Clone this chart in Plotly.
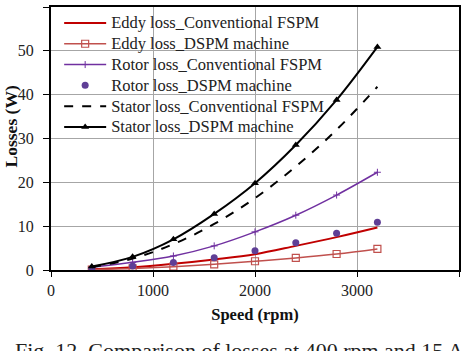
import plotly.graph_objects as go

speed = [400, 800, 1200, 1600, 2000, 2400, 2800, 3200]
eddy_conv = [0.15, 0.6, 1.4, 2.4, 3.6, 5.5, 7.5, 9.7]
eddy_dspm = [0.1, 0.35, 0.75, 1.3, 2.0, 2.75, 3.65, 4.8]
rotor_conv = [0.6, 1.75, 3.2, 5.5, 8.7, 12.5, 17.1, 22.3]
rotor_dspm = [0.25, 0.9, 1.7, 2.8, 4.4, 6.2, 8.4, 10.9]
stator_conv = [0.65, 2.6, 5.9, 10.5, 16.4, 23.6, 32.0, 41.8]
stator_dspm = [0.8, 3.0, 7.0, 12.8, 19.8, 28.5, 38.8, 50.9]

names = [
    "Eddy loss_Conventional FSPM",
    "Eddy loss_DSPM machine",
    "Rotor loss_Conventional FSPM",
    "Rotor loss_DSPM machine",
    "Stator loss_Conventional FSPM",
    "Stator loss_DSPM machine",
]

FONT = "Liberation Serif"
TXT = "#222"


def lg(s):
    return '<span style="font-size:16.5px">' + s + '</span>'


fig = go.Figure()
fig.add_trace(go.Scatter(x=speed, y=eddy_conv, name=lg(names[0]), mode="lines",
                         line=dict(color="#c00000", width=2, shape="spline")))
fig.add_trace(go.Scatter(x=speed, y=eddy_dspm, name=lg(names[1]), mode="lines+markers",
                         line=dict(color="#c0504d", width=1.5, shape="spline"),
                         marker=dict(symbol="square-open", size=7, color="#c0504d", line=dict(width=1.2))))
fig.add_trace(go.Scatter(x=speed, y=rotor_conv, name=lg(names[2]), mode="lines+markers",
                         line=dict(color="#7030a0", width=1.5, shape="spline"),
                         marker=dict(symbol="cross-thin", size=5, color="#7030a0", line=dict(width=1, color="#7030a0"))))
fig.add_trace(go.Scatter(x=speed, y=rotor_dspm, name=lg(names[3]), mode="markers",
                         marker=dict(symbol="circle", size=7, color="#5f3f96")))
fig.add_trace(go.Scatter(x=speed, y=stator_conv, name=lg(names[4]), mode="lines",
                         line=dict(color="black", width=2, dash="dash", shape="spline")))
fig.add_trace(go.Scatter(x=speed, y=stator_dspm, name=lg(names[5]), mode="lines+markers",
                         line=dict(color="black", width=2, shape="spline"),
                         marker=dict(symbol="triangle-up", size=7, color="black")))

fig.update_layout(
    width=474, height=351,
    margin=dict(l=51, r=15, t=7, b=81),
    paper_bgcolor="white", plot_bgcolor="white",
    font=dict(family=FONT, size=16, color=TXT),
    legend=dict(x=0.02, y=0.998, xanchor="left", yanchor="top",
                bgcolor="rgba(255,255,255,0)", font=dict(family=FONT, size=13.7, color=TXT),
                tracegroupgap=0, itemwidth=42),
    showlegend=True,
)
fig.update_xaxes(range=[0, 4000], dtick=1000, showgrid=True, gridcolor="#a6a6a6", gridwidth=1,
                 showline=True, linecolor="black", linewidth=2, mirror=True,
                 ticks="outside", ticklen=5, tickcolor="black", zeroline=False,
                 tickfont=dict(family=FONT, size=16, color=TXT), automargin=False,
                 title=dict(text="<b>Speed (rpm)</b>", font=dict(family=FONT, size=16.5, color="#111"), standoff=10))
fig.update_yaxes(range=[0, 60], dtick=10, showgrid=True, gridcolor="#a6a6a6", gridwidth=1,
                 showline=True, linecolor="black", linewidth=2, mirror=True,
                 ticks="outside", ticklen=6, tickcolor="black", zeroline=False,
                 ticklabelstandoff=6,
                 tickfont=dict(family=FONT, size=16, color=TXT), automargin=False)
fig.add_annotation(text="<b>Losses (W)</b>", xref="paper", yref="paper",
                   x=-0.097, y=0.5475, xanchor="center", yanchor="middle", textangle=-90,
                   showarrow=False, font=dict(family=FONT, size=17.5, color="#111"))
fig.add_annotation(text="Fig. 12. Comparison of losses at 400 rpm and 15 A", xref="paper", yref="paper",
                   x=0.463, y=-0.25, xanchor="center", yanchor="top", showarrow=False,
                   font=dict(family=FONT, size=22, color=TXT))
fig.write_html("out.html")
